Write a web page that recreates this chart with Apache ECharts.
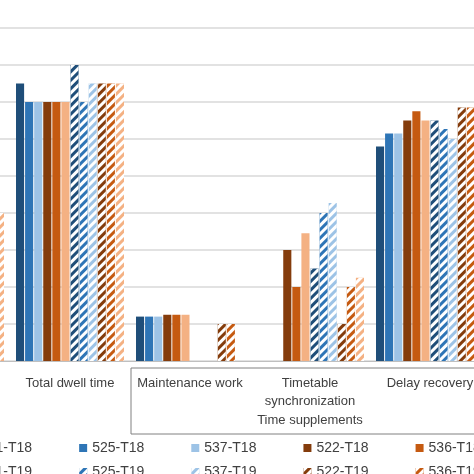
<!DOCTYPE html><html><head><meta charset="utf-8"><script src="https://cdn.jsdelivr.net/npm/echarts@6/dist/echarts.min.js"></script></head><body style="margin:0;overflow:hidden;width:474px;height:474px;position:relative"><div id="c" style="width:720px;height:474px;position:absolute;left:-110px;top:0"></div><script>
const categories=['','Total dwell time','Maintenance work','Timetable\nsynchronization','Delay recovery'];
const names=['521-T18','525-T18','537-T18','522-T18','536-T18','528-T18','521-T19','525-T19','537-T19','522-T19','536-T19','528-T19'];
const colors=['#1f4e79','#2e75b6','#9dc3e6','#843c0c','#c55a11','#f4b183'];
const v521T18=[null,7.5,1.2,0,5.8];
const v525T18=[null,7,1.2,0,6.15];
const v537T18=[null,7,1.2,0,6.15];
const v522T18=[null,7,1.25,3.0,6.5];
const v536T18=[null,7,1.25,2.0,6.75];
const v528T18=[null,7,1.25,3.45,6.5];
const v521T19=[null,8,0,2.5,6.5];
const v525T19=[null,7,0,4.0,6.27];
const v537T19=[null,7.5,0,4.27,6.0];
const v522T19=[null,7.5,1.0,1.0,6.85];
const v536T19=[null,7.5,1.0,2.0,6.85];
const v528T19=[4.0,7.5,0,2.25,6.85];
const values=[v521T18,v525T18,v537T18,v522T18,v536T18,v528T18,v521T19,v525T19,v537T19,v522T19,v536T19,v528T19];
const decal={symbol:'rect',symbolSize:1,dashArrayX:[1,0],dashArrayY:[2.5,2.5],rotation:-Math.PI/4,color:'#ffffff'};
const series=names.map((n,i)=>({name:n,type:'bar',data:values[i],barGap:'12%',barCategoryGap:'10%',
 itemStyle:Object.assign({color:colors[i%6]},i>=6?{decal:decal}:{})}));
const font='Liberation Sans';
const legendBase={orient:'horizontal',itemWidth:8,itemHeight:8,itemGap:47,icon:'rect',textStyle:{fontFamily:font,fontSize:14,color:'#404040'}};
const chart=echarts.init(document.getElementById('c'));
chart.setOption({animation:false,
 grid:{left:0,right:120,top:28,bottom:113},
 xAxis:{type:'category',data:categories,axisTick:{show:false},axisLine:{lineStyle:{color:'#bfbfbf'}},
  axisLabel:{interval:0,fontFamily:font,fontSize:13,color:'#404040',margin:13,lineHeight:18}},
 yAxis:{type:'value',min:0,max:9,interval:1,axisLabel:{show:false},splitLine:{lineStyle:{color:'#d9d9d9',width:1.5}}},
 legend:[Object.assign({left:72,top:436,data:names.slice(0,6)},legendBase),Object.assign({left:72,top:460,data:names.slice(6)},legendBase)],
 graphic:[{type:'rect',shape:{x:241,y:368,width:360,height:66},style:{fill:'none',stroke:'#808080',lineWidth:1}},
  {type:'text',style:{x:420,y:414,text:'Time supplements',fontFamily:font,fontSize:13,fill:'#404040',textAlign:'center'}}],
 series:series});
</script></body></html>
